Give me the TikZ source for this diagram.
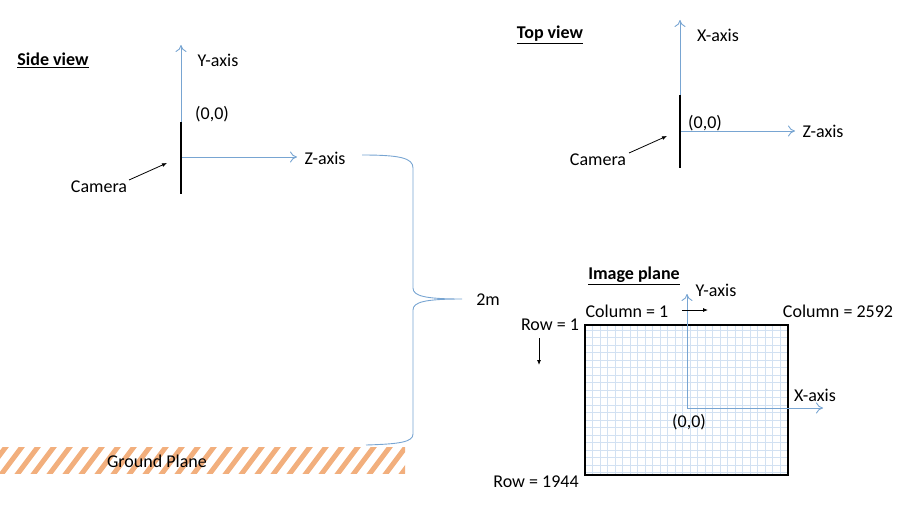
\documentclass[tikz,border=0pt]{standalone}
\usepackage{fontspec}
\setmainfont{Carlito}
\usetikzlibrary{arrows.meta}
\definecolor{axisblue}{RGB}{120,165,210}
\definecolor{gridblue}{RGB}{210,225,242}
\definecolor{hatch}{RGB}{242,175,125}
\tikzset{
  lbl/.style={font=\fontsize{18}{21}\selectfont, inner sep=1pt},
  ttl/.style={font=\fontsize{18}{21}\selectfont\bfseries, inner sep=1pt},
  axis/.style={draw=axisblue, line width=0.9pt, -{To[length=7pt,width=11pt,line width=0.9pt]}},
  cam/.style={draw=black, line width=2.6pt},
  ptr/.style={draw=black, line width=0.8pt, -{Latex[length=5pt,width=4pt]}}
}
\begin{document}
\begin{tikzpicture}[x=1pt,y=-1pt]
\useasboundingbox (0,0) rectangle (920,519);
% ---------- Side view ----------
\node[ttl] (sidet) at (53,60) {\underline{Side view}};
\coordinate (so) at (181,157);
\coordinate (sy) at (181,45);
\coordinate (sz) at (297,157);
\draw[axis] (so) -- (sy);
\draw[axis] (so) -- (sz);
\coordinate (sc1) at (181,122);
\coordinate (sc2) at (181,194);
\draw[cam] (sc1) -- (sc2);
\node[lbl] (syl) at (218,60) {Y-axis};
\node[lbl] (szl) at (325,158) {Z-axis};
\node[lbl] (sol) at (212,114) {(0,0)};
\node[lbl] (scl) at (99,187) {Camera};
\coordinate (scs) at (129,180);
\coordinate (sct) at (167,163);
\draw[ptr] (scs) -- (sct);
% brace
\coordinate (bt) at (362,155);
\coordinate (bm) at (462,299);
\coordinate (bb) at (366,445);
\draw[axisblue, line width=0.9pt] (bt) .. controls (400,155) and (413,158) .. (413,168) -- (413,288)
  .. controls (413,296) and (425,299) .. (bm) .. controls (425,299) and (413,302) .. (413,310)
  -- (413,434) .. controls (413,442) and (400,444) .. (bb);
\node[lbl] (twom) at (488,300) {2m};
% ground plane
\begin{scope}
\clip (0,447) rectangle (405,473);
\foreach \i in {-2,...,28} {
  \draw[hatch, line width=5pt] (\i*16,476) -- (\i*16+24,444);
}
\end{scope}
\node[lbl] (gp) at (157,461) {Ground Plane};
% ---------- Top view ----------
\node[ttl] (topt) at (550,35) {\underline{Top view}};
\coordinate (to) at (680,131);
\coordinate (tx) at (680,20);
\coordinate (tz) at (795,131);
\draw[axis] (to) -- (tx);
\draw[axis] (to) -- (tz);
\coordinate (tc1) at (680,95);
\coordinate (tc2) at (680,168);
\draw[cam] (tc1) -- (tc2);
\node[lbl] (txl) at (718,35) {X-axis};
\node[lbl] (tzl) at (823,131) {Z-axis};
\node[lbl] (tol) at (705,123) {(0,0)};
\node[lbl] (tcl) at (598,160) {Camera};
\coordinate (tcs) at (629,153);
\coordinate (tct) at (667,136);
\draw[ptr] (tcs) -- (tct);
% ---------- Image plane ----------
\node[ttl] (imgt) at (634,276) {\underline{Image plane}};
\coordinate (ra) at (585,325);
\coordinate (rb) at (788,475);
\begin{scope}
\clip (ra) rectangle (rb);
\draw[gridblue, line width=0.5pt, step=7.5pt] (585,325) grid (790,477);
\end{scope}
\draw[black, line width=1.6pt] (ra) rectangle (rb);
\coordinate (io) at (687,408);
\coordinate (iy) at (687,294);
\coordinate (ix) at (823,408);
\draw[axis] (io) -- (iy);
\draw[axis] (io) -- (ix);
\node[lbl] (iyl) at (716,290) {Y-axis};
\node[lbl] (ixl) at (815,395) {X-axis};
\node[lbl] (iol) at (689,422) {(0,0)};
\node[lbl] (c1) at (627,311) {Column = 1};
\coordinate (ca1) at (682,310);
\coordinate (ca2) at (708,310);
\draw[ptr] (ca1) -- (ca2);
\node[lbl] (c2) at (838,311) {Column = 2592};
\node[lbl] (r1) at (550,325) {Row = 1};
\coordinate (ra1) at (539,338);
\coordinate (ra2) at (539,365);
\draw[ptr] (ra1) -- (ra2);
\node[lbl] (r2) at (536,482) {Row = 1944};
\end{tikzpicture}
\end{document}
